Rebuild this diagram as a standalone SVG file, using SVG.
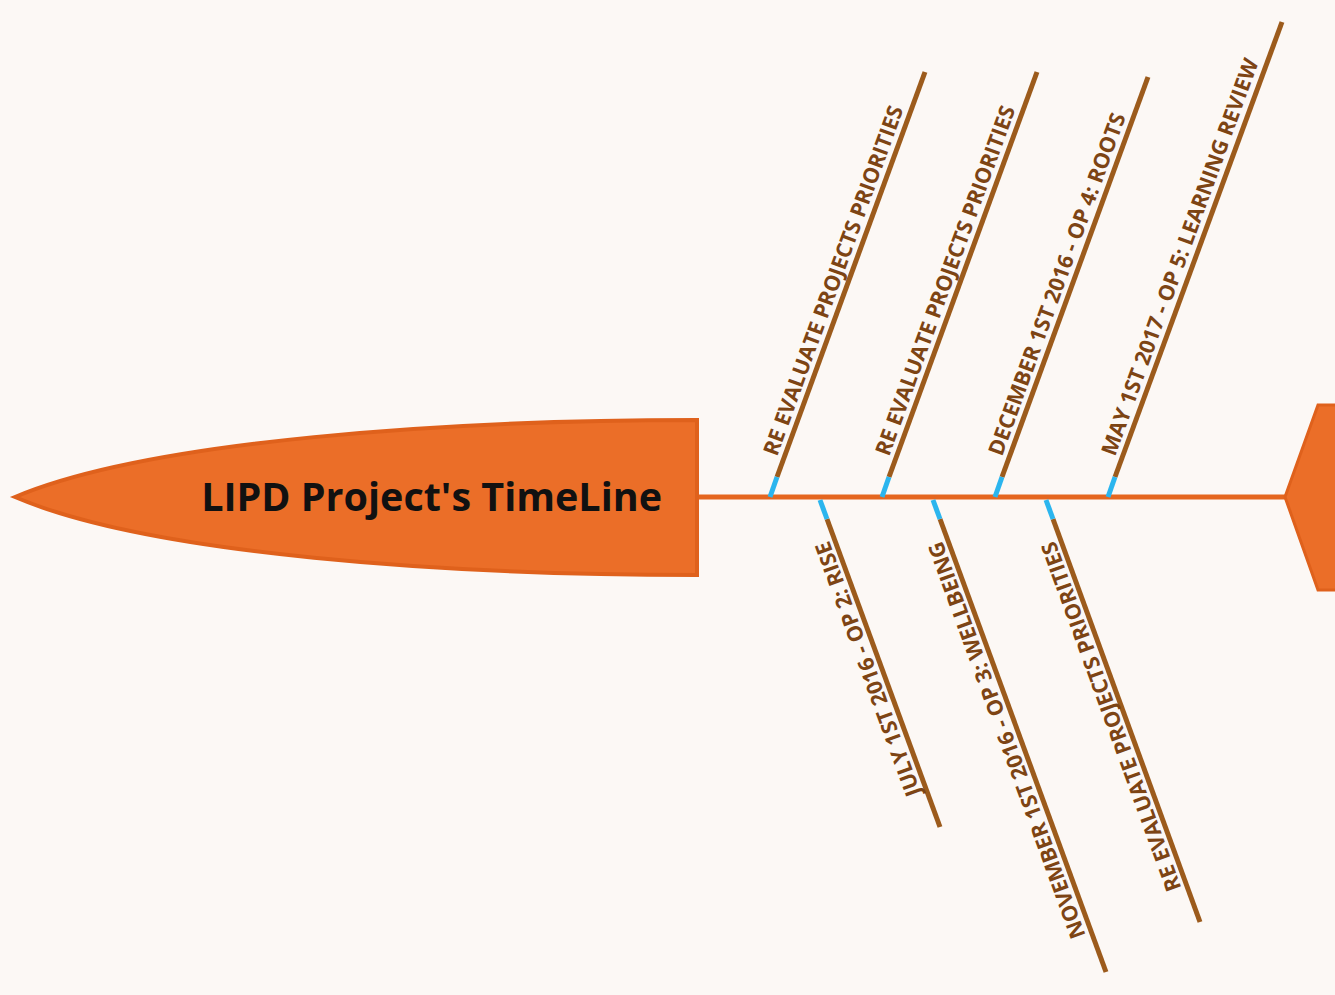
<svg xmlns="http://www.w3.org/2000/svg" width="1335" height="995" viewBox="0 0 1335 995">
<style>
.b{stroke:#9c5b1c;stroke-width:5;fill:none}
.c{stroke:#2bb5ee;stroke-width:5;fill:none}
.t{font-family:"Open Sans","DejaVu Sans",sans-serif;font-weight:bold;font-size:21.5px;fill:#7d4414}
</style>
<rect width="1335" height="995" fill="#fcf8f5"/>
<g id="connectors">
<line x1="697" y1="497" x2="1287" y2="497" stroke="#e5661f" stroke-width="5"/>
<line class="b" x1="777" y1="477" x2="925" y2="72"/><line class="c" x1="770" y1="497" x2="777" y2="477"/>
<line class="b" x1="889" y1="477" x2="1037" y2="72"/><line class="c" x1="882" y1="497" x2="889" y2="477"/>
<line class="b" x1="1002" y1="477" x2="1148" y2="77"/><line class="c" x1="995" y1="497" x2="1002" y2="477"/>
<line class="b" x1="1115" y1="477" x2="1282" y2="22"/><line class="c" x1="1108" y1="497" x2="1115" y2="477"/>
<line class="b" x1="827" y1="519" x2="940" y2="827"/><line class="c" x1="820" y1="500" x2="827" y2="519"/>
<line class="b" x1="940" y1="519" x2="1106" y2="972"/><line class="c" x1="933" y1="500" x2="940" y2="519"/>
<line class="b" x1="1053" y1="519" x2="1200" y2="922"/><line class="c" x1="1046" y1="500" x2="1053" y2="519"/>
</g>
<g id="head">
<path d="M697,420 C450,420 150,440 15,497 C150,555 450,575 697,575 Z" fill="#eb6e28" stroke="#df611c" stroke-width="4"/>
<text x="662" y="511" text-anchor="end" font-family="'Open Sans','DejaVu Sans',sans-serif" font-weight="bold" font-size="39.5" fill="#111">LIPD Project's TimeLine</text>
</g>
<g id="tail">
<path d="M1337,405 L1318,405 L1285,497 L1318,590 L1337,590 Z" fill="#eb6e28" stroke="#df611c" stroke-width="3"/>
</g>
<g id="b1"><text class="t" transform="translate(777,457) rotate(-70)">RE EVALUATE PROJECTS PRIORITIES</text></g>
<g id="b2"><text class="t" transform="translate(889,457) rotate(-70)">RE EVALUATE PROJECTS PRIORITIES</text></g>
<g id="b3"><text class="t" transform="translate(1002,457) rotate(-70)">DECEMBER 1ST 2016 - OP 4: ROOTS</text></g>
<g id="b4"><text class="t" transform="translate(1115,457) rotate(-70)">MAY 1ST 2017 - OP 5: LEARNING REVIEW</text></g>
<g id="b5"><text class="t" text-anchor="end" transform="translate(829,540) rotate(-110)">JULY 1ST 2016 - OP 2: RISE</text></g>
<g id="b6"><text class="t" text-anchor="end" transform="translate(942,540) rotate(-110)">NOVEMBER 1ST 2016 - OP 3: WELLBEING</text></g>
<g id="b7"><text class="t" text-anchor="end" transform="translate(1055,540) rotate(-110)">RE EVALUATE PROJECTS PRIORITIES</text></g>
</svg>
